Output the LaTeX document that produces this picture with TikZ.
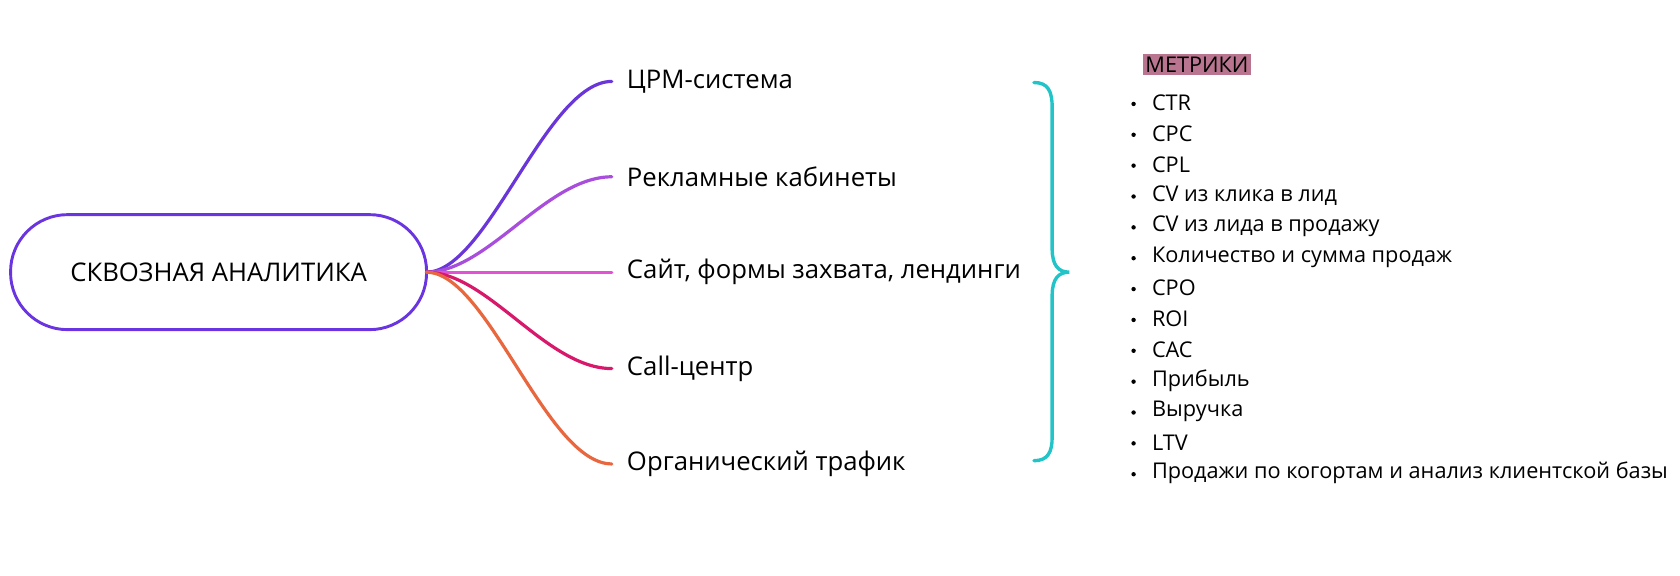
\documentclass[tikz,border=0pt]{standalone}
\usepackage{fontspec}
\setmainfont{Open Sans}
\definecolor{cpill}{HTML}{6A35E0}
\definecolor{cb1}{HTML}{6A35D9}
\definecolor{cb2}{HTML}{A94DDD}
\definecolor{cb3}{HTML}{E352D5}
\definecolor{cb4}{HTML}{D8186A}
\definecolor{cb5}{HTML}{E8673F}
\definecolor{cteal}{HTML}{22C4C8}
\definecolor{chead}{HTML}{B9758F}
\begin{document}
\begin{tikzpicture}[x=1.0714pt,y=-1.0714pt,
  branch/.style={line width=3.2pt,line cap=round},
  lbl/.style={anchor=west,inner sep=0pt,font=\fontsize{25.7}{30}\selectfont},
  item/.style={anchor=west,inner sep=0pt,font=\fontsize{21.7}{26}\selectfont}]
\useasboundingbox (0,0) rectangle (1568,536.7);
\node[draw=cpill,line width=2.9pt,rounded corners=57pt,minimum width=416pt,minimum height=115pt,font=\fontsize{25.7}{30}\selectfont] (root) at (204,254) {СКВОЗНАЯ АНАЛИТИКА};
\coordinate (r) at (398,254);
\foreach \y/\c/\t [count=\i] in {76/cb1/ЦРМ-система,165/cb2/Рекламные кабинеты,254/cb3/{Сайт, формы захвата, лендинги},344/cb4/Call-центр,433/cb5/Органический трафик}{
  \coordinate (e\i) at (571,\y);
  \node[lbl] (t\i) at (585,\y) {\t};
  \draw[branch,\c] (r) .. controls (455,254) and (510,\y) .. (e\i);
}
\coordinate (bt) at (965,77);
\coordinate (bb) at (965,430);
\coordinate (bm) at (998,254);
\draw[cteal,line width=3.4pt,line cap=round] (bt) .. controls (978,77) and (982,85) .. (982,100) -- (982,232) .. controls (982,248) and (988,254) .. (bm) .. controls (988,254) and (982,260) .. (982,276) -- (982,408) .. controls (982,422) and (978,430) .. (bb);
\node[fill=chead,inner xsep=2pt,inner ysep=3pt,anchor=west,font=\fontsize{21.7}{26}\selectfont] (head) at (1067,60) {МЕТРИКИ};
\foreach \t [count=\i] in {CTR,CPC,CPL,CV из клика в лид,CV из лида в продажу,Количество и сумма продаж,CPO,ROI,CAC,Прибыль,Выручка,LTV,Продажи по когортам и анализ клиентской базы}{
  \node[item] (m\i) at (1075,{96+28.8*(\i-1)}) {\t};
  \fill (1058,{97+28.8*(\i-1)}) circle (2.2pt);
}
\end{tikzpicture}
\end{document}
